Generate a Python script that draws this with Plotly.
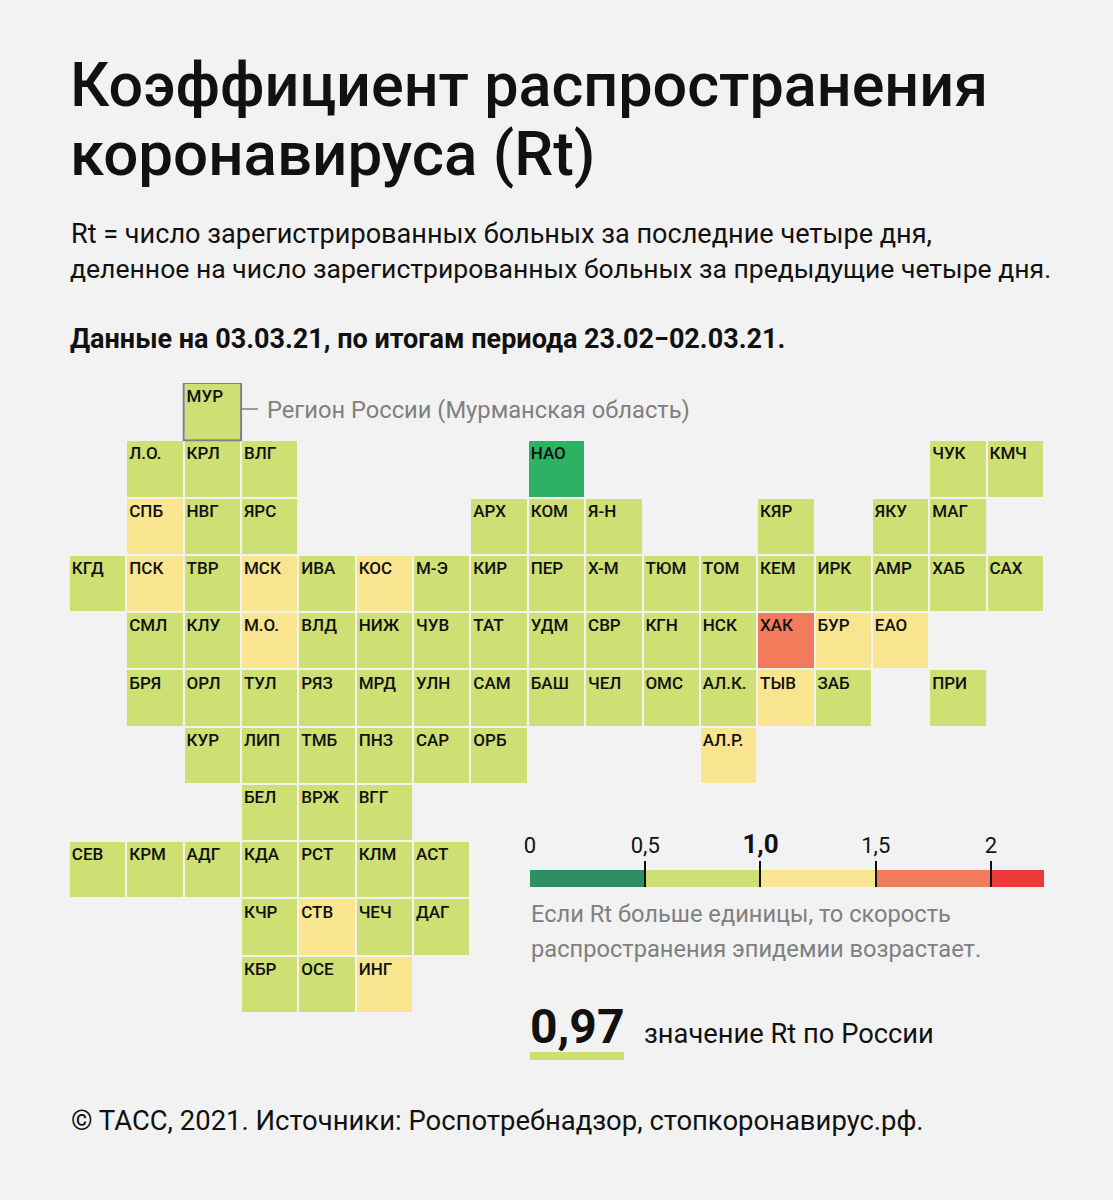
import plotly.graph_objects as go

WIDTH = 1113
HEIGHT = 1200
BG = "#F2F2F2"
FONT = "Roboto"
GRAY = "#808080"
INK = "#111111"

# regions: code, column, row on the tile grid, Rt estimated from the colour band
codes = ["МУР",
         "Л.О.", "КРЛ", "ВЛГ", "НАО", "ЧУК", "КМЧ",
         "СПБ", "НВГ", "ЯРС", "АРХ", "КОМ", "Я-Н", "КЯР", "ЯКУ", "МАГ",
         "КГД", "ПСК", "ТВР", "МСК", "ИВА", "КОС", "М-Э", "КИР", "ПЕР", "Х-М", "ТЮМ", "ТОМ", "КЕМ", "ИРК", "АМР", "ХАБ", "САХ",
         "СМЛ", "КЛУ", "М.О.", "ВЛД", "НИЖ", "ЧУВ", "ТАТ", "УДМ", "СВР", "КГН", "НСК", "ХАК", "БУР", "ЕАО",
         "БРЯ", "ОРЛ", "ТУЛ", "РЯЗ", "МРД", "УЛН", "САМ", "БАШ", "ЧЕЛ", "ОМС", "АЛ.К.", "ТЫВ", "ЗАБ", "ПРИ",
         "КУР", "ЛИП", "ТМБ", "ПНЗ", "САР", "ОРБ", "АЛ.Р.",
         "БЕЛ", "ВРЖ", "ВГГ",
         "СЕВ", "КРМ", "АДГ", "КДА", "РСТ", "КЛМ", "АСТ",
         "КЧР", "СТВ", "ЧЕЧ", "ДАГ",
         "КБР", "ОСЕ", "ИНГ"]
cols = [2,
        1, 2, 3, 8, 15, 16,
        1, 2, 3, 7, 8, 9, 12, 14, 15,
        0, 1, 2, 3, 4, 5, 6, 7, 8, 9, 10, 11, 12, 13, 14, 15, 16,
        1, 2, 3, 4, 5, 6, 7, 8, 9, 10, 11, 12, 13, 14,
        1, 2, 3, 4, 5, 6, 7, 8, 9, 10, 11, 12, 13, 15,
        2, 3, 4, 5, 6, 7, 11,
        3, 4, 5,
        0, 1, 2, 3, 4, 5, 6,
        3, 4, 5, 6,
        3, 4, 5]
rows = [0,
        1, 1, 1, 1, 1, 1,
        2, 2, 2, 2, 2, 2, 2, 2, 2,
        3, 3, 3, 3, 3, 3, 3, 3, 3, 3, 3, 3, 3, 3, 3, 3, 3,
        4, 4, 4, 4, 4, 4, 4, 4, 4, 4, 4, 4, 4, 4,
        5, 5, 5, 5, 5, 5, 5, 5, 5, 5, 5, 5, 5, 5,
        6, 6, 6, 6, 6, 6, 6,
        7, 7, 7,
        8, 8, 8, 8, 8, 8, 8,
        9, 9, 9, 9,
        10, 10, 10]
rt = [0.8,
      0.8, 0.8, 0.8, 0.4, 0.8, 0.8,
      1.2, 0.8, 0.8, 0.8, 0.8, 0.8, 0.8, 0.8, 0.8,
      0.8, 1.2, 0.8, 1.2, 0.8, 1.2, 0.8, 0.8, 0.8, 0.8, 0.8, 0.8, 0.8, 0.8, 0.8, 0.8, 0.8,
      0.8, 0.8, 1.2, 0.8, 0.8, 0.8, 0.8, 0.8, 0.8, 0.8, 0.8, 1.7, 1.2, 1.2,
      0.8, 0.8, 0.8, 0.8, 0.8, 0.8, 0.8, 0.8, 0.8, 0.8, 0.8, 1.2, 0.8, 0.8,
      0.8, 0.8, 0.8, 0.8, 0.8, 0.8, 1.2,
      0.8, 0.8, 0.8,
      0.8, 0.8, 0.8, 0.8, 0.8, 0.8, 0.8,
      0.8, 1.2, 0.8, 0.8,
      0.8, 0.8, 1.2]

# colour scale legend
band_edges = [0, 0.5, 1.0, 1.5, 2.0, 2.23]
band_colors = ["#2E8F64", "#CEDF74", "#F9E48F", "#F27B5B", "#EC3A3A"]
scale_ticks = [0, 0.5, 1.0, 1.5, 2.0]
scale_labels = ["0", "0,5", '<span style="font-size:26px"><b>1,0</b></span>', "1,5", "2"]

# tiles use a brighter green for the lowest band than the legend does
tile_colors = ["#2DB163", "#CEDF74", "#F9E48F", "#F27B5B", "#EC3A3A"]
tile_zmax = 2.5
tile_scale = []
for i, c in enumerate(tile_colors):
    tile_scale.append([i / len(tile_colors), c])
    tile_scale.append([(i + 1) / len(tile_colors), c])


def px(x):
    return x / WIDTH


def py(y):
    return 1 - y / HEIGHT


fig = go.Figure()

fig.add_trace(go.Heatmap(
    x=cols, y=rows, z=rt,
    zmin=0, zmax=tile_zmax,
    colorscale=tile_scale,
    showscale=False,
    xgap=2, ygap=2,
    hoverinfo="skip",
))

# labels sit in the upper left corner of each tile
fig.add_trace(go.Scatter(
    x=[c - 0.45 for c in cols],
    y=[r - 0.24 for r in rows],
    text=codes,
    mode="text",
    textposition="middle right",
    textfont=dict(family=FONT, size=17, color=INK, weight=500),
    hoverinfo="skip",
    showlegend=False,
))

for i, c in enumerate(band_colors):
    fig.add_trace(go.Bar(
        x=[band_edges[i + 1] - band_edges[i]],
        base=[band_edges[i]],
        y=[8.5],
        width=[17],
        orientation="h",
        marker=dict(color=c, line=dict(width=0)),
        xaxis="x2",
        yaxis="y2",
        hoverinfo="skip",
        showlegend=False,
    ))


def add_text(x, y, text, size, color=INK, weight=400):
    fig.add_annotation(
        xref="paper", yref="paper", x=px(x), y=py(y),
        text=text, showarrow=False, xanchor="left", yanchor="middle",
        align="left", borderpad=0,
        font=dict(family=FONT, size=size, color=color, weight=weight),
    )


add_text(69, 85, "Коэффициент распространения", 61.1, weight=500)
add_text(69, 154, "коронавируса (Rt)", 61.9, weight=500)
add_text(70, 234, "Rt = число зарегистрированных больных за последние четыре дня,", 27.1)
add_text(69, 269, "деленное на число зарегистрированных больных за предыдущие четыре дня.", 26.55)
add_text(69, 339, "Данные на 03.03.21, по итогам периода 23.02−02.03.21.", 27, weight=700)
add_text(266, 410, "Регион России (Мурманская область)", 23.7, color=GRAY)
add_text(530, 914, "Если Rt больше единицы, то скорость", 23.65, color=GRAY)
add_text(530, 949, "распространения эпидемии возрастает.", 23.65, color=GRAY)
add_text(529, 1026, "0,97", 48, weight=700)
add_text(643, 1034, "значение Rt по России", 27.3)
add_text(70, 1121, "© ТАСС, 2021. Источники: Роспотребнадзор, стопкоронавирус.рф.", 27.45)

# frame around the sample tile and its leader line
fig.add_shape(type="rect", xref="x", yref="y", x0=1.5, x1=2.5, y0=-0.5, y1=0.5,
              line=dict(color=GRAY, width=2), fillcolor="rgba(0,0,0,0)")
fig.add_shape(type="line", xref="paper", yref="paper",
              x0=px(240), x1=px(258), y0=py(409), y1=py(409),
              line=dict(color=GRAY, width=1.5))
# underline of the national value
fig.add_shape(type="rect", xref="paper", yref="paper",
              x0=px(530), x1=px(624), y0=py(1060), y1=py(1052),
              line=dict(width=0), fillcolor=band_colors[1])

fig.update_layout(
    width=WIDTH,
    height=HEIGHT,
    margin=dict(l=0, r=0, t=0, b=0, autoexpand=False),
    paper_bgcolor=BG,
    plot_bgcolor=BG,
    showlegend=False,
    barmode="overlay",
    xaxis=dict(domain=[px(69), px(1044)], range=[-0.5, 16.5], visible=False, fixedrange=True),
    yaxis=dict(domain=[py(1013), py(383)], range=[10.5, -0.5], visible=False, fixedrange=True),
    xaxis2=dict(
        domain=[px(530), px(1044)], range=[band_edges[0], band_edges[-1]],
        anchor="y2", side="top", showgrid=False, zeroline=False, showline=False,
        tickmode="array", tickvals=scale_ticks, ticktext=scale_labels,
        ticks="inside", ticklen=26, tickwidth=1.5, tickcolor=INK,
        ticklabelstandoff=3,
        tickfont=dict(family=FONT, size=22, color=INK),
        fixedrange=True,
    ),
    yaxis2=dict(domain=[py(887), py(861)], range=[0, 26], anchor="x2", visible=False, fixedrange=True),
)

fig.write_html(
    "out.html",
    config={"displayModeBar": False},
    post_script=f"document.body.style.margin='0';document.body.style.background='{BG}';",
)
